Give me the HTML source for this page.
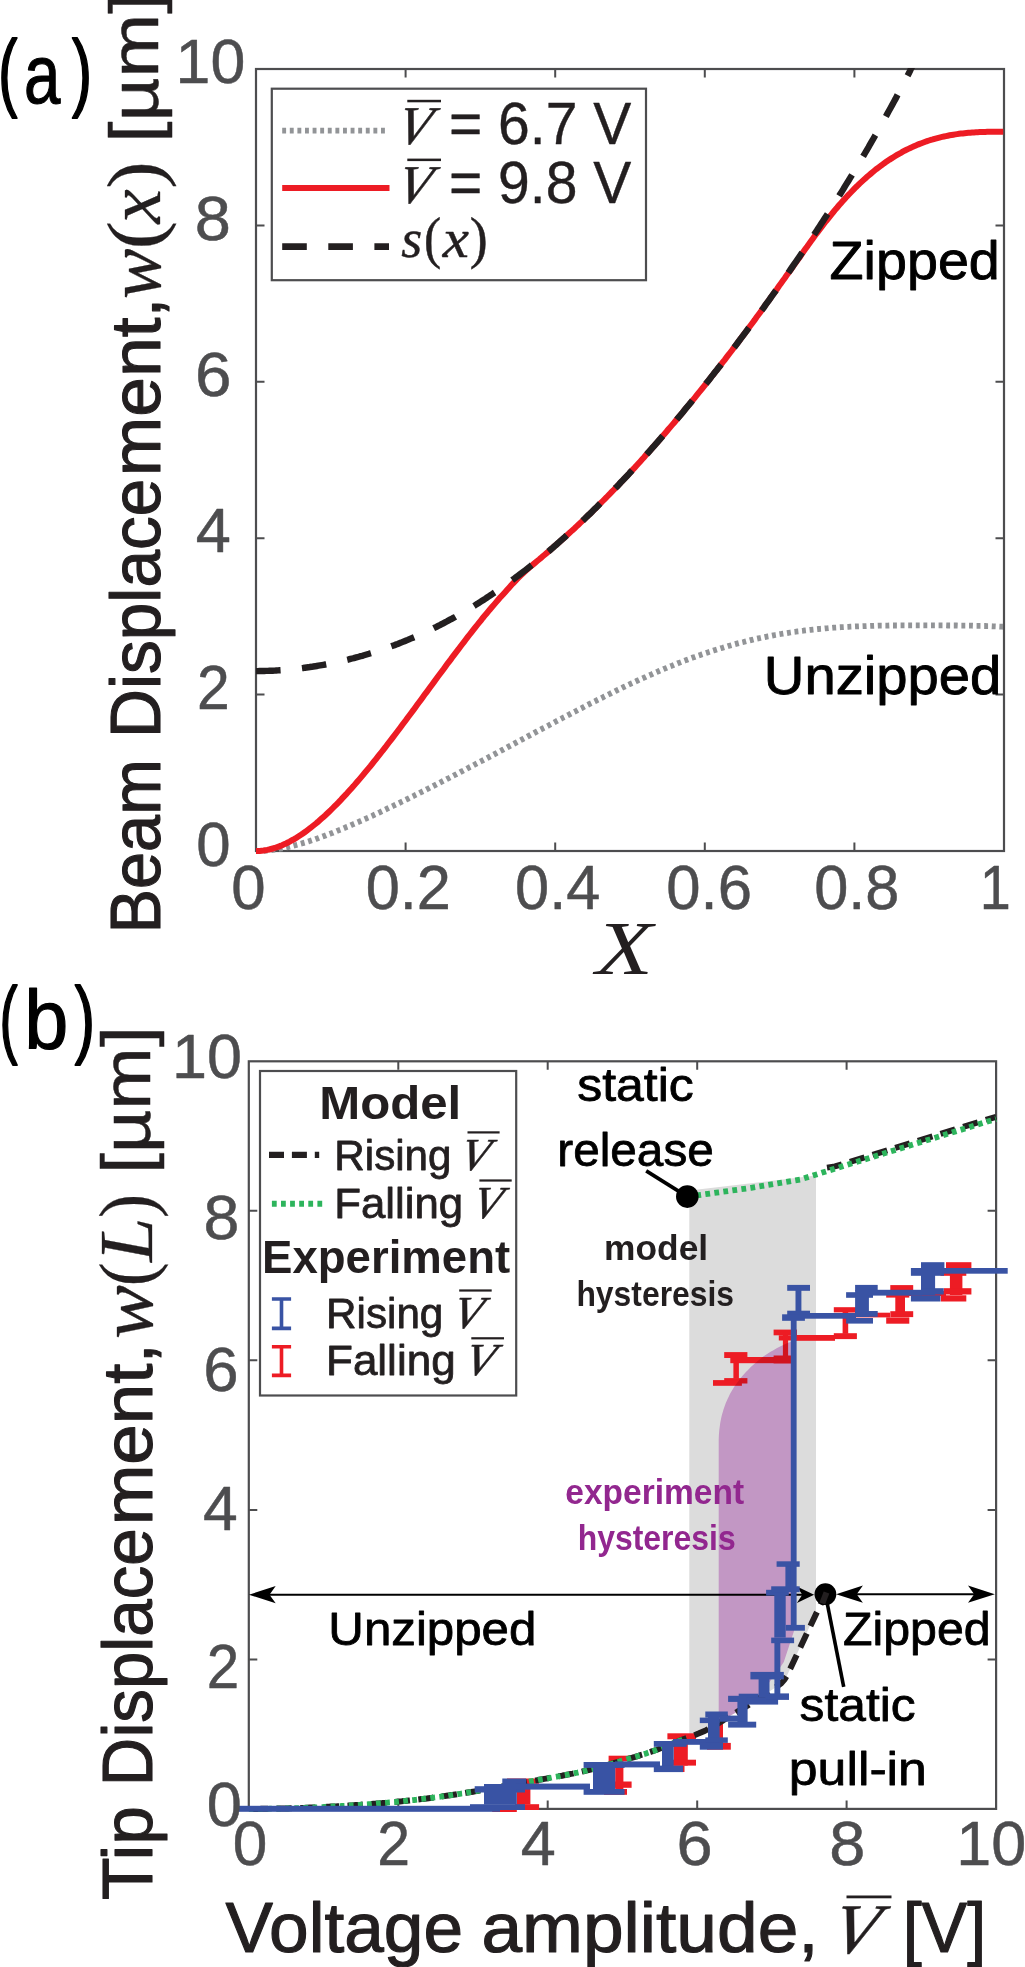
<!DOCTYPE html>
<html><head><meta charset="utf-8"><title>Figure</title>
<style>html,body{margin:0;padding:0;background:#fff}svg{display:block}text{white-space:pre}</style></head>
<body><svg width="1025" height="1967" viewBox="0 0 1025 1967">
<rect width="1025" height="1967" fill="#fff"/>
<rect x="256.0" y="69.0" width="748.0" height="782.0" fill="none" stroke="#4D4D4F" stroke-width="2.2"/>
<path d="M405.6,851.0v-8.5M405.6,69.0v8.5M555.2,851.0v-8.5M555.2,69.0v8.5M704.8,851.0v-8.5M704.8,69.0v8.5M854.4,851.0v-8.5M854.4,69.0v8.5M256.0,694.6h8.5M1004.0,694.6h-8.5M256.0,538.2h8.5M1004.0,538.2h-8.5M256.0,381.8h8.5M1004.0,381.8h-8.5M256.0,225.4h8.5M1004.0,225.4h-8.5" stroke="#4D4D4F" stroke-width="2" fill="none"/>
<clipPath id="ca"><rect x="255" y="68" width="748.2" height="786"/></clipPath>
<g clip-path="url(#ca)">
<path d="M256.0,851.0 L257.9,851.0 L259.7,850.9 L261.6,850.9 L263.5,850.8 L265.4,850.6 L267.2,850.5 L269.1,850.3 L271.0,850.1 L272.9,849.8 L274.7,849.6 L276.6,849.3 L278.5,849.0 L280.4,848.6 L282.2,848.3 L284.1,847.9 L286.0,847.5 L287.9,847.1 L289.7,846.7 L291.6,846.2 L293.5,845.7 L295.4,845.2 L297.2,844.7 L299.1,844.2 L301.0,843.7 L302.9,843.1 L304.7,842.6 L306.6,842.0 L308.5,841.4 L310.4,840.8 L312.2,840.2 L314.1,839.6 L316.0,838.9 L317.9,838.3 L319.7,837.6 L321.6,836.9 L323.5,836.2 L325.4,835.6 L327.2,834.8 L329.1,834.1 L331.0,833.4 L332.9,832.7 L334.7,831.9 L336.6,831.2 L338.5,830.4 L340.4,829.7 L342.2,828.9 L344.1,828.1 L346.0,827.3 L347.9,826.6 L349.7,825.8 L351.6,824.9 L353.5,824.1 L355.4,823.3 L357.2,822.5 L359.1,821.7 L361.0,820.8 L362.9,820.0 L364.7,819.2 L366.6,818.3 L368.5,817.5 L370.4,816.6 L372.2,815.8 L374.1,814.9 L376.0,814.0 L377.9,813.1 L379.7,812.3 L381.6,811.4 L383.5,810.5 L385.4,809.6 L387.2,808.7 L389.1,807.8 L391.0,806.9 L392.9,806.0 L394.7,805.1 L396.6,804.2 L398.5,803.3 L400.4,802.4 L402.2,801.5 L404.1,800.6 L406.0,799.7 L407.8,798.8 L409.7,797.8 L411.6,796.9 L413.5,796.0 L415.3,795.0 L417.2,794.1 L419.1,793.2 L421.0,792.2 L422.8,791.3 L424.7,790.4 L426.6,789.4 L428.5,788.5 L430.3,787.5 L432.2,786.6 L434.1,785.6 L436.0,784.7 L437.8,783.7 L439.7,782.8 L441.6,781.8 L443.5,780.8 L445.3,779.9 L447.2,778.9 L449.1,778.0 L451.0,777.0 L452.8,776.0 L454.7,775.0 L456.6,774.1 L458.5,773.1 L460.3,772.1 L462.2,771.2 L464.1,770.2 L466.0,769.2 L467.8,768.2 L469.7,767.2 L471.6,766.3 L473.5,765.3 L475.3,764.3 L477.2,763.3 L479.1,762.3 L481.0,761.3 L482.8,760.4 L484.7,759.4 L486.6,758.4 L488.5,757.4 L490.3,756.4 L492.2,755.4 L494.1,754.4 L496.0,753.4 L497.8,752.4 L499.7,751.4 L501.6,750.4 L503.5,749.4 L505.3,748.4 L507.2,747.4 L509.1,746.4 L511.0,745.4 L512.8,744.4 L514.7,743.4 L516.6,742.4 L518.5,741.4 L520.3,740.4 L522.2,739.4 L524.1,738.4 L526.0,737.4 L527.8,736.4 L529.7,735.4 L531.6,734.4 L533.5,733.4 L535.3,732.4 L537.2,731.4 L539.1,730.4 L541.0,729.4 L542.8,728.4 L544.7,727.5 L546.6,726.5 L548.5,725.5 L550.3,724.5 L552.2,723.5 L554.1,722.5 L555.9,721.5 L557.8,720.5 L559.7,719.5 L561.6,718.5 L563.4,717.5 L565.3,716.6 L567.2,715.6 L569.1,714.6 L570.9,713.6 L572.8,712.6 L574.7,711.7 L576.6,710.7 L578.4,709.7 L580.3,708.7 L582.2,707.8 L584.1,706.8 L585.9,705.8 L587.8,704.9 L589.7,703.9 L591.6,703.0 L593.4,702.0 L595.3,701.1 L597.2,700.1 L599.1,699.2 L600.9,698.2 L602.8,697.3 L604.7,696.3 L606.6,695.4 L608.4,694.5 L610.3,693.6 L612.2,692.6 L614.1,691.7 L615.9,690.8 L617.8,689.9 L619.7,689.0 L621.6,688.1 L623.4,687.2 L625.3,686.3 L627.2,685.4 L629.1,684.5 L630.9,683.6 L632.8,682.8 L634.7,681.9 L636.6,681.0 L638.4,680.2 L640.3,679.3 L642.2,678.4 L644.1,677.6 L645.9,676.8 L647.8,675.9 L649.7,675.1 L651.6,674.3 L653.4,673.4 L655.3,672.6 L657.2,671.8 L659.1,671.0 L660.9,670.2 L662.8,669.4 L664.7,668.6 L666.6,667.9 L668.4,667.1 L670.3,666.3 L672.2,665.6 L674.1,664.8 L675.9,664.1 L677.8,663.3 L679.7,662.6 L681.6,661.9 L683.4,661.1 L685.3,660.4 L687.2,659.7 L689.1,659.0 L690.9,658.3 L692.8,657.6 L694.7,657.0 L696.6,656.3 L698.4,655.6 L700.3,655.0 L702.2,654.3 L704.1,653.7 L705.9,653.0 L707.8,652.4 L709.7,651.8 L711.5,651.2 L713.4,650.6 L715.3,650.0 L717.2,649.4 L719.0,648.8 L720.9,648.2 L722.8,647.7 L724.7,647.1 L726.5,646.6 L728.4,646.0 L730.3,645.5 L732.2,645.0 L734.0,644.4 L735.9,643.9 L737.8,643.4 L739.7,642.9 L741.5,642.4 L743.4,642.0 L745.3,641.5 L747.2,641.0 L749.0,640.6 L750.9,640.1 L752.8,639.7 L754.7,639.2 L756.5,638.8 L758.4,638.4 L760.3,638.0 L762.2,637.6 L764.0,637.2 L765.9,636.8 L767.8,636.4 L769.7,636.1 L771.5,635.7 L773.4,635.3 L775.3,635.0 L777.2,634.7 L779.0,634.3 L780.9,634.0 L782.8,633.7 L784.7,633.4 L786.5,633.1 L788.4,632.8 L790.3,632.5 L792.2,632.2 L794.0,631.9 L795.9,631.7 L797.8,631.4 L799.7,631.2 L801.5,630.9 L803.4,630.7 L805.3,630.4 L807.2,630.2 L809.0,630.0 L810.9,629.8 L812.8,629.6 L814.7,629.4 L816.5,629.2 L818.4,629.0 L820.3,628.8 L822.2,628.7 L824.0,628.5 L825.9,628.3 L827.8,628.2 L829.7,628.0 L831.5,627.9 L833.4,627.7 L835.3,627.6 L837.2,627.5 L839.0,627.3 L840.9,627.2 L842.8,627.1 L844.7,627.0 L846.5,626.9 L848.4,626.8 L850.3,626.7 L852.2,626.6 L854.0,626.5 L855.9,626.4 L857.8,626.4 L859.6,626.3 L861.5,626.2 L863.4,626.1 L865.3,626.1 L867.1,626.0 L869.0,626.0 L870.9,625.9 L872.8,625.9 L874.6,625.8 L876.5,625.8 L878.4,625.7 L880.3,625.7 L882.1,625.7 L884.0,625.6 L885.9,625.6 L887.8,625.6 L889.6,625.5 L891.5,625.5 L893.4,625.5 L895.3,625.5 L897.1,625.5 L899.0,625.4 L900.9,625.4 L902.8,625.4 L904.6,625.4 L906.5,625.4 L908.4,625.4 L910.3,625.4 L912.1,625.4 L914.0,625.4 L915.9,625.4 L917.8,625.4 L919.6,625.4 L921.5,625.4 L923.4,625.4 L925.3,625.4 L927.1,625.4 L929.0,625.4 L930.9,625.4 L932.8,625.4 L934.6,625.4 L936.5,625.4 L938.4,625.4 L940.3,625.4 L942.1,625.4 L944.0,625.4 L945.9,625.4 L947.8,625.5 L949.6,625.5 L951.5,625.5 L953.4,625.5 L955.3,625.5 L957.1,625.5 L959.0,625.6 L960.9,625.6 L962.8,625.6 L964.6,625.6 L966.5,625.6 L968.4,625.7 L970.3,625.7 L972.1,625.7 L974.0,625.8 L975.9,625.8 L977.8,625.8 L979.6,625.9 L981.5,625.9 L983.4,626.0 L985.3,626.0 L987.1,626.1 L989.0,626.1 L990.9,626.2 L992.8,626.3 L994.6,626.3 L996.5,626.4 L998.4,626.5 L1000.3,626.6 L1002.1,626.7 L1004.0,626.8" fill="none" stroke="#929497" stroke-width="5.8" stroke-dasharray="3.9 3.7"/>
<path d="M256.0,851.0 L257.9,851.0 L259.7,850.9 L261.6,850.7 L263.5,850.5 L265.4,850.2 L267.2,849.9 L269.1,849.5 L271.0,849.0 L272.9,848.5 L274.7,848.0 L276.6,847.3 L278.5,846.7 L280.4,845.9 L282.2,845.2 L284.1,844.3 L286.0,843.5 L287.9,842.5 L289.7,841.6 L291.6,840.5 L293.5,839.5 L295.4,838.4 L297.2,837.2 L299.1,836.0 L301.0,834.8 L302.9,833.5 L304.7,832.2 L306.6,830.8 L308.5,829.4 L310.4,828.0 L312.2,826.5 L314.1,825.0 L316.0,823.5 L317.9,821.9 L319.7,820.3 L321.6,818.6 L323.5,816.9 L325.4,815.2 L327.2,813.5 L329.1,811.7 L331.0,809.9 L332.9,808.0 L334.7,806.2 L336.6,804.3 L338.5,802.4 L340.4,800.4 L342.2,798.4 L344.1,796.4 L346.0,794.4 L347.9,792.3 L349.7,790.3 L351.6,788.2 L353.5,786.1 L355.4,783.9 L357.2,781.8 L359.1,779.6 L361.0,777.4 L362.9,775.1 L364.7,772.9 L366.6,770.6 L368.5,768.4 L370.4,766.1 L372.2,763.8 L374.1,761.4 L376.0,759.1 L377.9,756.7 L379.7,754.4 L381.6,752.0 L383.5,749.6 L385.4,747.2 L387.2,744.8 L389.1,742.3 L391.0,739.9 L392.9,737.4 L394.7,735.0 L396.6,732.5 L398.5,730.0 L400.4,727.5 L402.2,725.0 L404.1,722.5 L406.0,720.0 L407.8,717.5 L409.7,715.0 L411.6,712.4 L413.5,709.9 L415.3,707.4 L417.2,704.8 L419.1,702.3 L421.0,699.7 L422.8,697.2 L424.7,694.6 L426.6,692.1 L428.5,689.5 L430.3,687.0 L432.2,684.4 L434.1,681.9 L436.0,679.3 L437.8,676.8 L439.7,674.3 L441.6,671.7 L443.5,669.2 L445.3,666.7 L447.2,664.1 L449.1,661.6 L451.0,659.1 L452.8,656.6 L454.7,654.1 L456.6,651.6 L458.5,649.2 L460.3,646.7 L462.2,644.2 L464.1,641.8 L466.0,639.3 L467.8,636.9 L469.7,634.5 L471.6,632.1 L473.5,629.7 L475.3,627.4 L477.2,625.0 L479.1,622.7 L481.0,620.3 L482.8,618.0 L484.7,615.7 L486.6,613.5 L488.5,611.2 L490.3,609.0 L492.2,606.8 L494.1,604.6 L496.0,602.4 L497.8,600.3 L499.7,598.1 L501.6,596.0 L503.5,593.9 L505.3,591.9 L507.2,589.8 L509.1,587.7 L511.0,585.6 L512.8,583.6 L514.7,581.6 L516.6,579.6 L518.5,577.7 L520.3,575.9 L522.2,574.1 L524.1,572.3 L526.0,570.6 L527.8,568.9 L529.7,567.3 L531.6,565.7 L533.5,564.1 L535.3,562.6 L537.2,561.0 L539.1,559.5 L541.0,557.9 L542.8,556.3 L544.7,554.7 L546.6,553.1 L548.5,551.5 L550.3,549.9 L552.2,548.3 L554.1,546.6 L555.9,545.0 L557.8,543.4 L559.7,541.7 L561.6,540.1 L563.4,538.4 L565.3,536.7 L567.2,535.0 L569.1,533.3 L570.9,531.6 L572.8,529.9 L574.7,528.2 L576.6,526.4 L578.4,524.7 L580.3,522.9 L582.2,521.1 L584.1,519.4 L585.9,517.6 L587.8,515.8 L589.7,514.0 L591.6,512.1 L593.4,510.3 L595.3,508.5 L597.2,506.6 L599.1,504.7 L600.9,502.9 L602.8,501.0 L604.7,499.1 L606.6,497.2 L608.4,495.3 L610.3,493.4 L612.2,491.4 L614.1,489.5 L615.9,487.6 L617.8,485.6 L619.7,483.6 L621.6,481.7 L623.4,479.7 L625.3,477.7 L627.2,475.7 L629.1,473.7 L630.9,471.6 L632.8,469.6 L634.7,467.6 L636.6,465.5 L638.4,463.5 L640.3,461.4 L642.2,459.3 L644.1,457.2 L645.9,455.1 L647.8,453.0 L649.7,450.9 L651.6,448.8 L653.4,446.7 L655.3,444.5 L657.2,442.4 L659.1,440.2 L660.9,438.1 L662.8,435.9 L664.7,433.7 L666.6,431.5 L668.4,429.3 L670.3,427.1 L672.2,424.9 L674.1,422.7 L675.9,420.5 L677.8,418.2 L679.7,416.0 L681.6,413.8 L683.4,411.5 L685.3,409.2 L687.2,406.9 L689.1,404.7 L690.9,402.4 L692.8,400.1 L694.7,397.8 L696.6,395.4 L698.4,393.1 L700.3,390.8 L702.2,388.5 L704.1,386.1 L705.9,383.8 L707.8,381.4 L709.7,379.0 L711.5,376.6 L713.4,374.3 L715.3,371.9 L717.2,369.5 L719.0,367.1 L720.9,364.6 L722.8,362.2 L724.7,359.8 L726.5,357.4 L728.4,354.9 L730.3,352.5 L732.2,350.0 L734.0,347.5 L735.9,345.1 L737.8,342.6 L739.7,340.1 L741.5,337.6 L743.4,335.1 L745.3,332.6 L747.2,330.1 L749.0,327.5 L750.9,325.0 L752.8,322.4 L754.7,319.9 L756.5,317.3 L758.4,314.8 L760.3,312.2 L762.2,309.6 L764.0,307.0 L765.9,304.4 L767.8,301.8 L769.7,299.2 L771.5,296.6 L773.4,294.0 L775.3,291.3 L777.2,288.7 L779.0,286.0 L780.9,283.4 L782.8,280.7 L784.7,278.2 L786.5,275.6 L788.4,273.0 L790.3,270.4 L792.2,267.8 L794.0,265.1 L795.9,262.5 L797.8,259.8 L799.7,257.2 L801.5,254.5 L803.4,251.8 L805.3,249.1 L807.2,246.5 L809.0,243.9 L810.9,241.3 L812.8,238.7 L814.7,236.1 L816.5,233.6 L818.4,231.1 L820.3,228.7 L822.2,226.2 L824.0,223.8 L825.9,221.3 L827.8,219.0 L829.7,216.6 L831.5,214.3 L833.4,212.0 L835.3,209.7 L837.2,207.5 L839.0,205.3 L840.9,203.2 L842.8,201.1 L844.7,199.0 L846.5,196.9 L848.4,194.9 L850.3,193.0 L852.2,191.0 L854.0,189.1 L855.9,187.2 L857.8,185.4 L859.6,183.6 L861.5,181.9 L863.4,180.1 L865.3,178.4 L867.1,176.8 L869.0,175.2 L870.9,173.6 L872.8,172.0 L874.6,170.5 L876.5,169.0 L878.4,167.6 L880.3,166.2 L882.1,164.8 L884.0,163.4 L885.9,162.1 L887.8,160.8 L889.6,159.6 L891.5,158.4 L893.4,157.2 L895.3,156.0 L897.1,154.9 L899.0,153.8 L900.9,152.8 L902.8,151.7 L904.6,150.7 L906.5,149.8 L908.4,148.9 L910.3,148.0 L912.1,147.1 L914.0,146.2 L915.9,145.4 L917.8,144.6 L919.6,143.9 L921.5,143.2 L923.4,142.5 L925.3,141.8 L927.1,141.1 L929.0,140.5 L930.9,139.9 L932.8,139.4 L934.6,138.8 L936.5,138.3 L938.4,137.8 L940.3,137.3 L942.1,136.9 L944.0,136.5 L945.9,136.1 L947.8,135.7 L949.6,135.3 L951.5,135.0 L953.4,134.7 L955.3,134.4 L957.1,134.1 L959.0,133.8 L960.9,133.6 L962.8,133.4 L964.6,133.2 L966.5,133.0 L968.4,132.8 L970.3,132.7 L972.1,132.5 L974.0,132.4 L975.9,132.3 L977.8,132.2 L979.6,132.1 L981.5,132.0 L983.4,131.9 L985.3,131.9 L987.1,131.8 L989.0,131.8 L990.9,131.7 L992.8,131.7 L994.6,131.7 L996.5,131.7 L998.4,131.7 L1000.3,131.7 L1002.1,131.7 L1004.0,131.7" fill="none" stroke="#ED1C24" stroke-width="6"/>
<path d="M256.0,671.1 L257.7,671.1 L259.4,671.0 L261.1,671.0 L262.7,671.0 L264.4,671.0 L266.1,670.9 L267.8,670.9 L269.5,670.8 L271.2,670.7 L272.9,670.7 L274.6,670.6 L276.2,670.5 L277.9,670.4 L279.6,670.3 L281.3,670.2 L283.0,670.0 L284.7,669.9 L286.4,669.8 L288.1,669.6 L289.7,669.5 L291.4,669.3 L293.1,669.1 L294.8,669.0 L296.5,668.8 L298.2,668.6 L299.9,668.4 L301.6,668.2 L303.2,668.0 L304.9,667.7 L306.6,667.5 L308.3,667.3 L310.0,667.0 L311.7,666.8 L313.4,666.5 L315.1,666.3 L316.7,666.0 L318.4,665.7 L320.1,665.4 L321.8,665.1 L323.5,664.8 L325.2,664.5 L326.9,664.2 L328.6,663.9 L330.2,663.5 L331.9,663.2 L333.6,662.8 L335.3,662.5 L337.0,662.1 L338.7,661.7 L340.4,661.4 L342.0,661.0 L343.7,660.6 L345.4,660.2 L347.1,659.8 L348.8,659.4 L350.5,658.9 L352.2,658.5 L353.9,658.1 L355.5,657.6 L357.2,657.2 L358.9,656.7 L360.6,656.2 L362.3,655.8 L364.0,655.3 L365.7,654.8 L367.4,654.3 L369.0,653.8 L370.7,653.2 L372.4,652.7 L374.1,652.2 L375.8,651.6 L377.5,651.1 L379.2,650.5 L380.9,650.0 L382.5,649.4 L384.2,648.8 L385.9,648.2 L387.6,647.6 L389.3,647.0 L391.0,646.4 L392.7,645.8 L394.4,645.2 L396.0,644.5 L397.7,643.9 L399.4,643.2 L401.1,642.6 L402.8,641.9 L404.5,641.2 L406.2,640.5 L407.8,639.9 L409.5,639.1 L411.2,638.4 L412.9,637.7 L414.6,637.0 L416.3,636.3 L418.0,635.5 L419.7,634.8 L421.3,634.0 L423.0,633.2 L424.7,632.4 L426.4,631.7 L428.1,630.9 L429.8,630.1 L431.5,629.2 L433.2,628.4 L434.8,627.6 L436.5,626.8 L438.2,625.9 L439.9,625.1 L441.6,624.2 L443.3,623.3 L445.0,622.4 L446.7,621.5 L448.3,620.6 L450.0,619.7 L451.7,618.8 L453.4,617.9 L455.1,617.0 L456.8,616.0 L458.5,615.1 L460.2,614.1 L461.8,613.1 L463.5,612.2 L465.2,611.2 L466.9,610.2 L468.6,609.2 L470.3,608.2 L472.0,607.1 L473.7,606.1 L475.3,605.1 L477.0,604.0 L478.7,603.0 L480.4,601.9 L482.1,600.8 L483.8,599.7 L485.5,598.6 L487.1,597.5 L488.8,596.4 L490.5,595.3 L492.2,594.2 L493.9,593.0 L495.6,591.9 L497.3,590.7 L499.0,589.6 L500.6,588.4 L502.3,587.2 L504.0,586.0 L505.7,584.8 L507.4,583.6 L509.1,582.4 L510.8,581.2 L512.5,579.9 L514.1,578.7 L515.8,577.4 L517.5,576.2 L519.2,574.9 L520.9,573.6 L522.6,572.3 L524.3,571.0 L526.0,569.7 L527.6,568.4 L529.3,567.1 L531.0,565.7 L532.7,564.4 L534.4,563.0 L536.1,561.7 L537.8,560.3 L539.5,558.9 L541.1,557.5 L542.8,556.1 L544.5,554.7 L546.2,553.3 L547.9,551.9 L549.6,550.5 L551.3,549.0 L553.0,547.6 L554.6,546.1 L556.3,544.7 L558.0,543.2 L559.7,541.7 L561.4,540.2 L563.1,538.7 L564.8,537.2 L566.4,535.7 L568.1,534.2 L569.8,532.6 L571.5,531.1 L573.2,529.5 L574.9,528.0 L576.6,526.4 L578.3,524.8 L579.9,523.3 L581.6,521.7 L583.3,520.1 L585.0,518.5 L586.7,516.8 L588.4,515.2 L590.1,513.6 L591.8,511.9 L593.4,510.3 L595.1,508.6 L596.8,507.0 L598.5,505.3 L600.2,503.6 L601.9,501.9 L603.6,500.2 L605.3,498.5 L606.9,496.8 L608.6,495.1 L610.3,493.4 L612.0,491.6 L613.7,489.9 L615.4,488.1 L617.1,486.4 L618.8,484.6 L620.4,482.8 L622.1,481.1 L623.8,479.3 L625.5,477.5 L627.2,475.7 L628.9,473.9 L630.6,472.0 L632.2,470.2 L633.9,468.4 L635.6,466.5 L637.3,464.7 L639.0,462.8 L640.7,461.0 L642.4,459.1 L644.1,457.2 L645.7,455.3 L647.4,453.5 L649.1,451.6 L650.8,449.7 L652.5,447.7 L654.2,445.8 L655.9,443.9 L657.6,442.0 L659.2,440.0 L660.9,438.1 L662.6,436.1 L664.3,434.2 L666.0,432.2 L667.7,430.2 L669.4,428.2 L671.1,426.3 L672.7,424.3 L674.4,422.3 L676.1,420.3 L677.8,418.2 L679.5,416.2 L681.2,414.2 L682.9,412.2 L684.6,410.1 L686.2,408.1 L687.9,406.0 L689.6,404.0 L691.3,401.9 L693.0,399.8 L694.7,397.8 L696.4,395.7 L698.1,393.6 L699.7,391.5 L701.4,389.4 L703.1,387.3 L704.8,385.2 L706.5,383.0 L708.2,380.9 L709.9,378.8 L711.5,376.6 L713.2,374.5 L714.9,372.3 L716.6,370.2 L718.3,368.0 L720.0,365.9 L721.7,363.7 L723.4,361.5 L725.0,359.3 L726.7,357.1 L728.4,354.9 L730.1,352.7 L731.8,350.5 L733.5,348.3 L735.2,346.1 L736.9,343.8 L738.5,341.6 L740.2,339.3 L741.9,337.1 L743.6,334.8 L745.3,332.6 L747.0,330.3 L748.7,328.0 L750.4,325.8 L752.0,323.5 L753.7,321.2 L755.4,318.9 L757.1,316.6 L758.8,314.3 L760.5,311.9 L762.2,309.6 L763.9,307.3 L765.5,304.9 L767.2,302.6 L768.9,300.3 L770.6,297.9 L772.3,295.5 L774.0,293.2 L775.7,290.8 L777.4,288.4 L779.0,286.0 L780.7,283.6 L782.4,281.2 L784.1,278.8 L785.8,276.4 L787.5,274.0 L789.2,271.5 L790.8,269.1 L792.5,266.6 L794.2,264.2 L795.9,261.7 L797.6,259.2 L799.3,256.8 L801.0,254.3 L802.7,251.8 L804.3,249.3 L806.0,246.8 L807.7,244.3 L809.4,241.7 L811.1,239.2 L812.8,236.7 L814.5,234.1 L816.2,231.6 L817.8,229.0 L819.5,226.4 L821.2,223.8 L822.9,221.2 L824.6,218.6 L826.3,216.0 L828.0,213.4 L829.7,210.8 L831.3,208.1 L833.0,205.5 L834.7,202.8 L836.4,200.1 L838.1,197.5 L839.8,194.8 L841.5,192.1 L843.2,189.4 L844.8,186.6 L846.5,183.9 L848.2,181.2 L849.9,178.4 L851.6,175.6 L853.3,172.8 L855.0,170.1 L856.6,167.3 L858.3,164.4 L860.0,161.6 L861.7,158.8 L863.4,155.9 L865.1,153.0 L866.8,150.2 L868.5,147.3 L870.1,144.3 L871.8,141.4 L873.5,138.5 L875.2,135.5 L876.9,132.6 L878.6,129.6 L880.3,126.6 L882.0,123.6 L883.6,120.5 L885.3,117.5 L887.0,114.4 L888.7,111.3 L890.4,108.2 L892.1,105.1 L893.8,102.0 L895.5,98.9 L897.1,95.7 L898.8,92.5 L900.5,89.3 L902.2,86.1 L903.9,82.8 L905.6,79.6 L907.3,76.3 L909.0,73.0 L910.6,69.6 L912.3,66.3 L914.0,62.9 L915.7,59.5 L917.4,56.1 L919.1,52.7 L920.8,49.2 L922.5,45.8 L924.1,42.2 L925.8,38.7 L927.5,35.2 L929.2,31.6" fill="none" stroke="#231F20" stroke-width="6.4" stroke-dasharray="24.6 21.5"/>
</g>
<rect x="271.8" y="88.7" width="374.2" height="191.5" fill="#fff" stroke="#4D4D4F" stroke-width="2.2"/>
<path d="M282.2,130.7 L387.0,130.7" fill="none" stroke="#929497" stroke-width="5.8" stroke-dasharray="3.9 3.7"/>
<path d="M282.2,188.1 L389.5,188.1" fill="none" stroke="#ED1C24" stroke-width="6"/>
<path d="M282.2,246.6 L389.0,246.6" fill="none" stroke="#231F20" stroke-width="6.6" stroke-dasharray="24.6 21.5"/>
<rect x="407.3" y="99.8" width="33.7" height="2.5" fill="#231F20"/>
<rect x="407.3" y="158.6" width="33.7" height="2.5" fill="#231F20"/>
<path d="M689.3,1190.5 L816.0,1175.5 L816.0,1612.5 L787.5,1674.5 L784.5,1679.5 L781.0,1683.6 L779.4,1684.7 L777.9,1685.8 L776.3,1686.8 L774.8,1687.9 L773.2,1689.0 L771.7,1690.0 L770.1,1691.1 L768.6,1692.1 L767.0,1693.1 L765.5,1694.2 L763.9,1695.2 L762.3,1696.2 L760.8,1697.3 L759.2,1698.3 L757.7,1699.3 L756.1,1700.3 L754.6,1701.3 L753.0,1702.2 L751.5,1703.2 L749.9,1704.2 L748.4,1705.1 L746.8,1706.1 L745.3,1707.0 L743.7,1707.9 L742.1,1708.9 L740.6,1709.8 L739.0,1710.7 L737.5,1711.6 L735.9,1712.5 L734.4,1713.5 L732.8,1714.4 L731.3,1715.3 L729.7,1716.3 L728.2,1717.2 L726.6,1718.2 L725.0,1719.2 L723.5,1720.1 L721.9,1721.1 L720.4,1722.1 L718.8,1723.0 L717.3,1724.0 L715.7,1724.9 L714.2,1725.8 L712.6,1726.7 L711.1,1727.6 L709.5,1728.4 L708.0,1729.2 L706.4,1730.0 L704.8,1730.8 L703.3,1731.5 L701.7,1732.2 L700.2,1732.8 L698.6,1733.5 L697.1,1734.1 L695.5,1734.7 L694.0,1735.3 L692.4,1735.9 L690.9,1736.5 L689.3,1737.1Z" fill="#DCDCDC"/>
<rect x="248.8" y="1061.3" width="747.3" height="747.6000000000001" fill="none" stroke="#4D4D4F" stroke-width="2.2"/>
<path d="M398.3,1808.9v-8.5M398.3,1061.3v8.5M547.7,1808.9v-8.5M547.7,1061.3v8.5M697.2,1808.9v-8.5M697.2,1061.3v8.5M846.6,1808.9v-8.5M846.6,1061.3v8.5M248.8,1659.4h8.5M996.1,1659.4h-8.5M248.8,1509.9h8.5M996.1,1509.9h-8.5M248.8,1360.3h8.5M996.1,1360.3h-8.5M248.8,1210.8h8.5M996.1,1210.8h-8.5" stroke="#4D4D4F" stroke-width="2" fill="none"/>
<rect x="507.0" y="1778.5" width="32.1" height="5.3" fill="#ED1C24"/>
<rect x="516.8" y="1783.0" width="13.6" height="21.5" fill="#ED1C24"/>
<rect x="515.0" y="1804.2" width="24.1" height="5.8" fill="#ED1C24"/>
<rect x="492.2" y="1808.9" width="24.6" height="3.1" fill="#ED1C24"/>
<rect x="608.6" y="1755.7" width="23.0" height="5.7" fill="#ED1C24"/>
<rect x="615.2" y="1761.0" width="8.2" height="28.0" fill="#ED1C24"/>
<rect x="608.0" y="1781.5" width="23.6" height="6.3" fill="#ED1C24"/>
<rect x="604.0" y="1789.0" width="23.0" height="5.8" fill="#ED1C24"/>
<rect x="667.4" y="1733.3" width="28.6" height="6.0" fill="#ED1C24"/>
<rect x="673.7" y="1739.0" width="14.1" height="26.6" fill="#ED1C24"/>
<rect x="673.0" y="1759.7" width="23.0" height="5.9" fill="#ED1C24"/>
<rect x="662.0" y="1765.6" width="22.5" height="6.4" fill="#ED1C24"/>
<rect x="716.0" y="1722.0" width="7.0" height="23.0" fill="#ED1C24"/>
<rect x="707.0" y="1742.9" width="23.8" height="6.8" fill="#ED1C24"/>
<rect x="724.2" y="1352.1" width="23.2" height="5.9" fill="#ED1C24"/>
<rect x="733.4" y="1358.0" width="5.5" height="20.7" fill="#ED1C24"/>
<rect x="724.2" y="1378.1" width="23.2" height="5.4" fill="#ED1C24"/>
<rect x="713.0" y="1380.1" width="28.9" height="5.7" fill="#ED1C24"/>
<rect x="730.3" y="1357.0" width="60.7" height="6.2" fill="#ED1C24"/>
<rect x="773.6" y="1329.6" width="23.4" height="5.7" fill="#ED1C24"/>
<rect x="778.8" y="1335.3" width="18.2" height="5.2" fill="#ED1C24"/>
<rect x="782.9" y="1335.0" width="5.2" height="21.2" fill="#ED1C24"/>
<rect x="773.6" y="1355.5" width="17.4" height="7.9" fill="#ED1C24"/>
<rect x="791.0" y="1335.0" width="44.0" height="5.8" fill="#ED1C24"/>
<rect x="833.8" y="1307.2" width="23.1" height="5.2" fill="#ED1C24"/>
<rect x="842.6" y="1312.0" width="5.6" height="21.8" fill="#ED1C24"/>
<rect x="833.8" y="1333.2" width="23.1" height="5.9" fill="#ED1C24"/>
<rect x="848.0" y="1312.7" width="42.0" height="4.7" fill="#ED1C24"/>
<rect x="890.3" y="1285.1" width="22.9" height="5.2" fill="#ED1C24"/>
<rect x="886.2" y="1291.0" width="23.1" height="6.6" fill="#ED1C24"/>
<rect x="895.3" y="1290.0" width="9.7" height="27.0" fill="#ED1C24"/>
<rect x="890.3" y="1311.2" width="22.9" height="5.9" fill="#ED1C24"/>
<rect x="886.2" y="1317.4" width="23.1" height="6.3" fill="#ED1C24"/>
<rect x="905.0" y="1291.0" width="41.0" height="5.0" fill="#ED1C24"/>
<rect x="946.0" y="1262.2" width="25.4" height="5.8" fill="#ED1C24"/>
<rect x="940.5" y="1268.0" width="25.8" height="7.8" fill="#ED1C24"/>
<rect x="949.9" y="1268.0" width="12.5" height="27.0" fill="#ED1C24"/>
<rect x="943.7" y="1288.2" width="27.7" height="6.3" fill="#ED1C24"/>
<rect x="940.9" y="1295.3" width="25.4" height="6.2" fill="#ED1C24"/>
<path d="M718.7,1444.0 L718.7,1441.7 L718.7,1439.4 L718.8,1437.0 L718.9,1434.7 L719.1,1432.4 L719.3,1430.1 L719.6,1427.8 L719.9,1425.5 L720.2,1423.2 L720.6,1420.9 L721.1,1418.6 L721.6,1416.3 L722.2,1414.1 L722.8,1411.9 L723.5,1409.6 L724.2,1407.4 L725.0,1405.2 L725.8,1403.1 L726.7,1400.9 L727.7,1398.8 L728.7,1396.7 L729.7,1394.6 L730.8,1392.6 L732.0,1390.6 L733.2,1388.6 L734.4,1386.6 L735.7,1384.7 L737.1,1382.8 L738.5,1380.9 L739.9,1379.1 L741.3,1377.3 L742.8,1375.5 L744.4,1373.8 L745.9,1372.0 L747.5,1370.4 L749.2,1368.7 L750.8,1367.1 L752.5,1365.5 L754.2,1363.9 L756.0,1362.4 L757.7,1360.9 L759.5,1359.4 L761.4,1358.0 L763.3,1356.6 L765.2,1355.3 L767.1,1354.0 L769.0,1352.8 L771.0,1351.5 L773.0,1350.4 L775.0,1349.2 L777.1,1348.1 L779.1,1347.0 L781.2,1346.0 L783.3,1345.0 L785.4,1344.0 L787.5,1343.1 L789.7,1342.2 L791.8,1341.3 L794.0,1340.5 L794.0,1631.0 L783.8,1662.0 L777.0,1672.0 L765.0,1688.0 L751.0,1702.0 L735.0,1713.0 L718.7,1722.0Z" fill="#E1AFE3" style="mix-blend-mode:multiply"/>
<path d="M248.8,1808.9 L250.6,1808.9 L252.4,1808.9 L254.1,1808.9 L255.9,1808.9 L257.7,1808.9 L259.5,1808.9 L261.3,1808.8 L263.0,1808.8 L264.8,1808.8 L266.6,1808.8 L268.4,1808.8 L270.2,1808.7 L271.9,1808.7 L273.7,1808.7 L275.5,1808.7 L277.3,1808.6 L279.1,1808.6 L280.8,1808.5 L282.6,1808.5 L284.4,1808.5 L286.2,1808.4 L288.0,1808.4 L289.7,1808.3 L291.5,1808.3 L293.3,1808.2 L295.1,1808.2 L296.9,1808.1 L298.6,1808.0 L300.4,1808.0 L302.2,1807.9 L304.0,1807.9 L305.8,1807.8 L307.5,1807.7 L309.3,1807.6 L311.1,1807.6 L312.9,1807.5 L314.7,1807.4 L316.4,1807.3 L318.2,1807.3 L320.0,1807.2 L321.8,1807.1 L323.6,1807.0 L325.3,1806.9 L327.1,1806.8 L328.9,1806.7 L330.7,1806.6 L332.5,1806.5 L334.2,1806.5 L336.0,1806.4 L337.8,1806.2 L339.6,1806.1 L341.4,1806.0 L343.1,1805.9 L344.9,1805.8 L346.7,1805.7 L348.5,1805.6 L350.3,1805.5 L352.0,1805.4 L353.8,1805.2 L355.6,1805.1 L357.4,1805.0 L359.2,1804.9 L360.9,1804.8 L362.7,1804.6 L364.5,1804.5 L366.3,1804.4 L368.1,1804.2 L369.8,1804.1 L371.6,1804.0 L373.4,1803.8 L375.2,1803.7 L377.0,1803.5 L378.7,1803.4 L380.5,1803.2 L382.3,1803.1 L384.1,1802.9 L385.9,1802.8 L387.6,1802.6 L389.4,1802.4 L391.2,1802.3 L393.0,1802.1 L394.8,1802.0 L396.5,1801.8 L398.3,1801.6 L400.1,1801.4 L401.9,1801.3 L403.7,1801.1 L405.4,1800.9 L407.2,1800.7 L409.0,1800.5 L410.8,1800.3 L412.6,1800.1 L414.3,1799.9 L416.1,1799.7 L417.9,1799.5 L419.7,1799.3 L421.5,1799.1 L423.2,1798.9 L425.0,1798.7 L426.8,1798.5 L428.6,1798.2 L430.4,1798.0 L432.1,1797.8 L433.9,1797.5 L435.7,1797.3 L437.5,1797.1 L439.3,1796.8 L441.0,1796.6 L442.8,1796.3 L444.6,1796.1 L446.4,1795.8 L448.2,1795.6 L449.9,1795.3 L451.7,1795.1 L453.5,1794.8 L455.3,1794.5 L457.1,1794.2 L458.8,1794.0 L460.6,1793.7 L462.4,1793.4 L464.2,1793.1 L466.0,1792.8 L467.7,1792.5 L469.5,1792.2 L471.3,1792.0 L473.1,1791.7 L474.9,1791.4 L476.6,1791.1 L478.4,1790.8 L480.2,1790.4 L482.0,1790.1 L483.8,1789.8 L485.5,1789.5 L487.3,1789.2 L489.1,1788.9 L490.9,1788.6 L492.7,1788.3 L494.4,1787.9 L496.2,1787.6 L498.0,1787.3 L499.8,1787.0 L501.6,1786.7 L503.3,1786.3 L505.1,1786.0 L506.9,1785.7 L508.7,1785.4 L510.5,1785.0 L512.2,1784.7 L514.0,1784.4 L515.8,1784.1 L517.6,1783.7 L519.3,1783.4 L521.1,1783.1 L522.9,1782.8 L524.7,1782.4 L526.5,1782.1 L528.2,1781.8 L530.0,1781.5 L531.8,1781.1 L533.6,1780.8 L535.4,1780.5 L537.1,1780.2 L538.9,1779.8 L540.7,1779.5 L542.5,1779.2 L544.3,1778.9 L546.0,1778.6 L547.8,1778.3 L549.6,1777.9 L551.4,1777.6 L553.2,1777.3 L554.9,1777.0 L556.7,1776.7 L558.5,1776.3 L560.3,1776.0 L562.1,1775.7 L563.8,1775.3 L565.6,1775.0 L567.4,1774.6 L569.2,1774.3 L571.0,1773.9 L572.7,1773.6 L574.5,1773.2 L576.3,1772.8 L578.1,1772.5 L579.9,1772.1 L581.6,1771.7 L583.4,1771.3 L585.2,1770.8 L587.0,1770.4 L588.8,1770.0 L590.5,1769.6 L592.3,1769.1 L594.1,1768.6 L595.9,1768.2 L597.7,1767.7 L599.4,1767.2 L601.2,1766.8 L603.0,1766.3 L604.8,1765.8 L606.6,1765.3 L608.3,1764.8 L610.1,1764.2 L611.9,1763.7 L613.7,1763.2 L615.5,1762.7 L617.2,1762.2 L619.0,1761.6 L620.8,1761.1 L622.6,1760.6 L624.4,1760.1 L626.1,1759.5 L627.9,1759.0 L629.7,1758.5 L631.5,1758.0 L633.3,1757.4 L635.0,1756.9 L636.8,1756.3 L638.6,1755.8 L640.4,1755.2 L642.2,1754.7 L643.9,1754.1 L645.7,1753.5 L647.5,1752.9 L649.3,1752.3 L651.1,1751.7 L652.8,1751.1 L654.6,1750.5 L656.4,1749.9 L658.2,1749.2 L660.0,1748.5 L661.7,1747.9 L663.5,1747.2 L665.3,1746.5 L667.1,1745.8 L668.9,1745.1 L670.6,1744.4 L672.4,1743.7 L674.2,1742.9 L676.0,1742.2 L677.8,1741.5 L679.5,1740.8 L681.3,1740.1 L683.1,1739.4 L684.9,1738.7 L686.7,1738.1 L688.4,1737.4 L690.2,1736.7 L692.0,1736.1 L693.8,1735.4 L695.6,1734.7 L697.3,1734.0 L699.1,1733.3 L700.9,1732.5 L702.7,1731.7 L704.5,1730.9 L706.2,1730.1 L708.0,1729.2 L709.8,1728.2 L711.6,1727.3 L713.4,1726.3 L715.1,1725.2 L716.9,1724.2 L718.7,1723.1 L720.5,1722.0 L722.3,1720.9 L724.0,1719.8 L725.8,1718.7 L727.6,1717.6 L729.4,1716.5 L731.2,1715.4 L732.9,1714.3 L734.7,1713.3 L736.5,1712.2 L738.3,1711.1 L740.1,1710.1 L741.8,1709.0 L743.6,1708.0 L745.4,1706.9 L747.2,1705.8 L749.0,1704.8 L750.7,1703.7 L752.5,1702.6 L754.3,1701.4 L756.1,1700.3 L757.9,1699.2 L759.6,1698.0 L761.4,1696.8 L763.2,1695.7 L765.0,1694.5 L766.8,1693.3 L768.5,1692.1 L770.3,1690.9 L772.1,1689.7 L773.9,1688.5 L775.7,1687.3 L777.4,1686.1 L779.2,1684.8 L781.0,1683.6 L784.5,1679.5 L787.5,1674.5 L825.4,1594.2" fill="none" stroke="#231F20" stroke-width="6" stroke-dasharray="15.3 8.4" stroke-dashoffset="19.7"/>
<path d="M827.0,1167.6 L835.0,1166.4 L996.1,1116.8" fill="none" stroke="#231F20" stroke-width="6" stroke-dasharray="15.3 8.4"/>
<path d="M248.8,1808.9 L250.6,1808.9 L252.3,1808.9 L254.1,1808.9 L255.8,1808.9 L257.6,1808.9 L259.3,1808.9 L261.1,1808.8 L262.9,1808.8 L264.6,1808.8 L266.4,1808.8 L268.1,1808.8 L269.9,1808.7 L271.7,1808.7 L273.4,1808.7 L275.2,1808.7 L276.9,1808.6 L278.7,1808.6 L280.4,1808.6 L282.2,1808.5 L284.0,1808.5 L285.7,1808.4 L287.5,1808.4 L289.2,1808.3 L291.0,1808.3 L292.8,1808.2 L294.5,1808.2 L296.3,1808.1 L298.0,1808.1 L299.8,1808.0 L301.5,1807.9 L303.3,1807.9 L305.1,1807.8 L306.8,1807.7 L308.6,1807.7 L310.3,1807.6 L312.1,1807.5 L313.9,1807.5 L315.6,1807.4 L317.4,1807.3 L319.1,1807.2 L320.9,1807.1 L322.6,1807.1 L324.4,1807.0 L326.2,1806.9 L327.9,1806.8 L329.7,1806.7 L331.4,1806.6 L333.2,1806.5 L335.0,1806.4 L336.7,1806.3 L338.5,1806.2 L340.2,1806.1 L342.0,1806.0 L343.7,1805.9 L345.5,1805.8 L347.3,1805.7 L349.0,1805.6 L350.8,1805.4 L352.5,1805.3 L354.3,1805.2 L356.1,1805.1 L357.8,1805.0 L359.6,1804.9 L361.3,1804.7 L363.1,1804.6 L364.8,1804.5 L366.6,1804.3 L368.4,1804.2 L370.1,1804.1 L371.9,1803.9 L373.6,1803.8 L375.4,1803.7 L377.2,1803.5 L378.9,1803.4 L380.7,1803.2 L382.4,1803.1 L384.2,1802.9 L385.9,1802.8 L387.7,1802.6 L389.5,1802.4 L391.2,1802.3 L393.0,1802.1 L394.7,1802.0 L396.5,1801.8 L398.2,1801.6 L400.0,1801.4 L401.8,1801.3 L403.5,1801.1 L405.3,1800.9 L407.0,1800.7 L408.8,1800.5 L410.6,1800.3 L412.3,1800.1 L414.1,1800.0 L415.8,1799.8 L417.6,1799.6 L419.3,1799.3 L421.1,1799.1 L422.9,1798.9 L424.6,1798.7 L426.4,1798.5 L428.1,1798.3 L429.9,1798.1 L431.7,1797.8 L433.4,1797.6 L435.2,1797.4 L436.9,1797.1 L438.7,1796.9 L440.4,1796.7 L442.2,1796.4 L444.0,1796.2 L445.7,1795.9 L447.5,1795.7 L449.2,1795.4 L451.0,1795.2 L452.8,1794.9 L454.5,1794.6 L456.3,1794.4 L458.0,1794.1 L459.8,1793.8 L461.5,1793.5 L463.3,1793.3 L465.1,1793.0 L466.8,1792.7 L468.6,1792.4 L470.3,1792.1 L472.1,1791.8 L473.9,1791.5 L475.6,1791.2 L477.4,1790.9 L479.1,1790.6 L480.9,1790.3 L482.6,1790.0 L484.4,1789.7 L486.2,1789.4 L487.9,1789.1 L489.7,1788.8 L491.4,1788.5 L493.2,1788.2 L495.0,1787.8 L496.7,1787.5 L498.5,1787.2 L500.2,1786.9 L502.0,1786.6 L503.7,1786.3 L505.5,1785.9 L507.3,1785.6 L509.0,1785.3 L510.8,1785.0 L512.5,1784.7 L514.3,1784.3 L516.1,1784.0 L517.8,1783.7 L519.6,1783.4 L521.3,1783.0 L523.1,1782.7 L524.8,1782.4 L526.6,1782.1 L528.4,1781.8 L530.1,1781.4 L531.9,1781.1 L533.6,1780.8 L535.4,1780.5 L537.2,1780.2 L538.9,1779.8 L540.7,1779.5 L542.4,1779.2 L544.2,1778.9 L545.9,1778.6 L547.7,1778.3 L549.5,1778.0 L551.2,1777.7 L553.0,1777.3 L554.7,1777.0 L556.5,1776.7 L558.2,1776.4 L560.0,1776.1 L561.8,1775.7 L563.5,1775.4 L565.3,1775.1 L567.0,1774.7 L568.8,1774.4 L570.6,1774.0 L572.3,1773.7 L574.1,1773.3 L575.8,1772.9 L577.6,1772.6 L579.3,1772.2 L581.1,1771.8 L582.9,1771.4 L584.6,1771.0 L586.4,1770.6 L588.1,1770.1 L589.9,1769.7 L591.7,1769.3 L593.4,1768.8 L595.2,1768.4 L596.9,1767.9 L598.7,1767.4 L600.4,1767.0 L602.2,1766.5 L604.0,1766.0 L605.7,1765.5 L607.5,1765.0 L609.2,1764.5 L611.0,1764.0 L612.8,1763.5 L614.5,1763.0 L616.3,1762.5 L618.0,1761.9 L619.8,1761.4 L621.5,1760.9 L623.3,1760.4 L625.1,1759.9 L626.8,1759.3 L628.6,1758.8 L630.3,1758.3 L632.1,1757.8 L633.9,1757.2 L635.6,1756.7 L637.4,1756.2 L639.1,1755.6 L640.9,1755.1 L642.6,1754.5 L644.4,1754.0 L646.2,1753.4 L647.9,1752.8 L649.7,1752.2 L651.4,1751.6 L653.2,1751.0 L655.0,1750.4 L656.7,1749.8 L658.5,1749.1 L660.2,1748.4 L662.0,1747.8 L663.7,1747.1 L665.5,1746.4 L667.3,1745.7 L669.0,1745.0 L670.8,1744.3 L672.5,1743.6 L674.3,1742.9 L676.1,1742.2 L677.8,1741.5 L679.6,1740.8 L681.3,1740.1 L683.1,1739.4 L684.8,1738.8 L686.6,1738.1" fill="none" stroke="#2DB45C" stroke-width="5.8" stroke-dasharray="4.8 4.3"/>
<path d="M687.3,1196.7 L751.2,1187.8 L800.0,1179.6 L835.0,1168.6 L996.1,1118.9" fill="none" stroke="#2DB45C" stroke-width="5.8" stroke-dasharray="4.8 4.3"/>
<path d="M260.0,1594.7 L805.0,1594.7" fill="none" stroke="#000" stroke-width="2"/>
<path d="M248.9,1594.7 L275.7,1586.1 L269.5,1594.7 L275.7,1603.3Z" fill="#000"/>
<path d="M814.1,1594.7 L796.9,1586.5 L802.3,1594.7 L796.9,1602.9Z" fill="#000"/>
<path d="M850.0,1594.2 L980.0,1594.2" fill="none" stroke="#000" stroke-width="2"/>
<path d="M836.1,1594.2 L862.9,1585.6 L856.7,1594.2 L862.9,1602.8Z" fill="#000"/>
<path d="M994.8,1594.2 L968.0,1585.6 L974.2,1594.2 L968.0,1602.8Z" fill="#000"/>
<rect x="236.9" y="1805.8" width="263.1" height="6.0" fill="#3953A4"/>
<rect x="502.3" y="1778.5" width="23.9" height="5.8" fill="#3953A4"/>
<rect x="474.7" y="1786.2" width="50.3" height="6.3" fill="#3953A4"/>
<rect x="484.0" y="1784.0" width="32.8" height="20.5" fill="#3953A4"/>
<rect x="470.0" y="1804.2" width="55.0" height="5.8" fill="#3953A4"/>
<rect x="516.0" y="1783.6" width="74.0" height="6.0" fill="#3953A4"/>
<rect x="583.6" y="1762.0" width="41.0" height="5.9" fill="#3953A4"/>
<rect x="593.0" y="1767.0" width="22.2" height="22.5" fill="#3953A4"/>
<rect x="583.6" y="1789.0" width="41.0" height="5.8" fill="#3953A4"/>
<rect x="615.0" y="1761.4" width="45.0" height="6.0" fill="#3953A4"/>
<rect x="653.8" y="1741.0" width="32.8" height="5.8" fill="#3953A4"/>
<rect x="662.0" y="1746.0" width="11.7" height="20.0" fill="#3953A4"/>
<rect x="653.8" y="1765.6" width="29.3" height="6.5" fill="#3953A4"/>
<rect x="673.0" y="1739.0" width="35.0" height="5.8" fill="#3953A4"/>
<rect x="705.3" y="1711.5" width="22.5" height="6.1" fill="#3953A4"/>
<rect x="699.8" y="1717.6" width="19.8" height="5.5" fill="#3953A4"/>
<rect x="708.0" y="1717.0" width="11.6" height="27.3" fill="#3953A4"/>
<rect x="705.3" y="1737.4" width="22.5" height="5.5" fill="#3953A4"/>
<rect x="699.8" y="1742.9" width="23.2" height="6.8" fill="#3953A4"/>
<rect x="719.6" y="1715.6" width="20.4" height="6.1" fill="#3953A4"/>
<rect x="738.7" y="1693.7" width="19.9" height="6.3" fill="#3953A4"/>
<rect x="728.1" y="1695.8" width="21.9" height="6.1" fill="#3953A4"/>
<rect x="737.4" y="1700.0" width="10.2" height="22.4" fill="#3953A4"/>
<rect x="728.1" y="1721.7" width="28.1" height="5.9" fill="#3953A4"/>
<rect x="750.4" y="1671.9" width="33.4" height="7.5" fill="#3953A4"/>
<rect x="758.6" y="1679.0" width="10.9" height="18.5" fill="#3953A4"/>
<rect x="746.9" y="1697.1" width="31.2" height="7.5" fill="#3953A4"/>
<rect x="774.4" y="1643.0" width="5.9" height="51.0" fill="#3953A4"/>
<rect x="766.0" y="1693.4" width="23.0" height="6.5" fill="#3953A4"/>
<rect x="771.2" y="1637.6" width="22.9" height="5.6" fill="#3953A4"/>
<rect x="774.3" y="1592.0" width="11.4" height="45.6" fill="#3953A4"/>
<rect x="766.1" y="1589.8" width="22.7" height="5.8" fill="#3953A4"/>
<rect x="771.2" y="1586.3" width="28.5" height="5.9" fill="#3953A4"/>
<rect x="785.4" y="1564.0" width="5.6" height="26.0" fill="#3953A4"/>
<rect x="776.6" y="1561.3" width="23.1" height="5.5" fill="#3953A4"/>
<rect x="785.7" y="1624.9" width="19.2" height="5.8" fill="#3953A4"/>
<rect x="790.8" y="1316.0" width="5.8" height="312.0" fill="#3953A4"/>
<rect x="787.2" y="1284.9" width="22.8" height="5.9" fill="#3953A4"/>
<rect x="795.5" y="1290.0" width="5.9" height="21.0" fill="#3953A4"/>
<rect x="787.2" y="1310.7" width="22.8" height="5.6" fill="#3953A4"/>
<rect x="782.1" y="1314.3" width="22.8" height="6.5" fill="#3953A4"/>
<rect x="800.0" y="1313.0" width="56.0" height="5.7" fill="#3953A4"/>
<rect x="855.1" y="1284.9" width="22.6" height="5.9" fill="#3953A4"/>
<rect x="846.1" y="1292.2" width="26.9" height="5.6" fill="#3953A4"/>
<rect x="855.1" y="1290.0" width="13.8" height="27.0" fill="#3953A4"/>
<rect x="855.1" y="1311.0" width="22.6" height="5.8" fill="#3953A4"/>
<rect x="846.1" y="1318.0" width="26.9" height="5.6" fill="#3953A4"/>
<rect x="868.0" y="1289.8" width="54.0" height="5.8" fill="#3953A4"/>
<rect x="921.0" y="1262.2" width="23.4" height="5.8" fill="#3953A4"/>
<rect x="910.9" y="1268.0" width="33.1" height="7.8" fill="#3953A4"/>
<rect x="921.0" y="1268.0" width="14.1" height="27.3" fill="#3953A4"/>
<rect x="921.0" y="1288.2" width="22.7" height="6.3" fill="#3953A4"/>
<rect x="910.9" y="1295.3" width="29.6" height="6.2" fill="#3953A4"/>
<rect x="935.0" y="1268.0" width="72.7" height="5.7" fill="#3953A4"/>
<path d="M646.2,1170.9 L687.3,1196.6" fill="none" stroke="#000" stroke-width="3.6"/>
<circle cx="687.3" cy="1196.6" r="11.3" fill="#000"/>
<path d="M825.4,1594.2 L843.7,1686.8" fill="none" stroke="#000" stroke-width="3.6"/>
<circle cx="825.4" cy="1594.2" r="10.9" fill="#000"/>
<path d="M826.5,1592.5 L822.3,1603.5" fill="none" stroke="#231F20" stroke-width="6"/>
<rect x="260" y="1071" width="256.2" height="324.5" fill="#fff" stroke="#4D4D4F" stroke-width="2.2"/>
<path d="M269.0,1154.9 L319.2,1154.9" fill="none" stroke="#231F20" stroke-width="6.1" stroke-dasharray="15 7.9"/>
<path d="M271.9,1203.7 L323.4,1203.7" fill="none" stroke="#2DB45C" stroke-width="6" stroke-dasharray="4.8 4.3"/>
<path d="M271.9,1299.0h19.2M271.9,1328.3999999999999h19.2M281.5,1299.0V1328.3999999999999" stroke="#3953A4" stroke-width="3.6" fill="none"/>
<path d="M271.9,1346.8h19.2M271.9,1375.3999999999999h19.2M281.5,1346.8V1375.3999999999999" stroke="#ED1C24" stroke-width="3.6" fill="none"/>
<rect x="467.5" y="1131.3" width="32.1" height="2.2" fill="#231F20"/>
<rect x="479.4" y="1179.4" width="32.3" height="2.2" fill="#231F20"/>
<rect x="459.2" y="1289.4" width="32.5" height="2.2" fill="#231F20"/>
<rect x="471.3" y="1337.2" width="32.7" height="2.2" fill="#231F20"/>
<rect x="846.5" y="1895.5" width="45.0" height="2.8" fill="#231F20"/>
<g id="labels">
<text transform="translate(-1.77,100.30) scale(0.6765,1)" font-family="Liberation Sans, sans-serif" font-size="85" fill="#000" stroke="#000" stroke-width="1.8" stroke-linejoin="round">(</text><text transform="translate(23.92,103.00) scale(0.7870,1)" font-family="Liberation Sans, sans-serif" font-size="83" fill="#000" stroke="#000" stroke-width="1.2" stroke-linejoin="round">a</text><text transform="translate(71.93,100.30) scale(0.7059,1)" font-family="Liberation Sans, sans-serif" font-size="85" fill="#000" stroke="#000" stroke-width="1.8" stroke-linejoin="round">)</text>
<text transform="translate(159.60,933.49) rotate(-90) scale(0.9532,1)" font-family="Liberation Sans, sans-serif" font-size="70" fill="#231F20" stroke="#231F20" stroke-width="1.1" stroke-linejoin="round">Beam</text>
<text transform="translate(159.60,737.97) rotate(-90) scale(0.9666,1)" font-family="Liberation Sans, sans-serif" font-size="70" fill="#231F20" stroke="#231F20" stroke-width="1.1" stroke-linejoin="round">Displace</text><text transform="translate(159.60,476.34) rotate(-90) scale(1.0206,1)" font-family="Liberation Sans, sans-serif" font-size="70" fill="#231F20" stroke="#231F20" stroke-width="1.1" stroke-linejoin="round">ment,</text>
<text transform="translate(159.60,299.02) rotate(-90) scale(0.9817,1)" font-family="Liberation Serif, serif" font-size="77" fill="#231F20" font-style="italic" stroke="#231F20" stroke-width="0.3" stroke-linejoin="round">w</text><text transform="translate(159.60,249.43) rotate(-90) scale(1.1139,1)" font-family="Liberation Serif, serif" font-size="77" fill="#231F20" stroke="#231F20" stroke-width="0.2" stroke-linejoin="round">(</text><text transform="translate(159.60,223.45) rotate(-90) scale(1.0028,1)" font-family="Liberation Serif, serif" font-size="77" fill="#231F20" font-style="italic" stroke="#231F20" stroke-width="0.3" stroke-linejoin="round">x</text><text transform="translate(159.60,188.63) rotate(-90) scale(1.0693,1)" font-family="Liberation Serif, serif" font-size="77" fill="#231F20" stroke="#231F20" stroke-width="0.2" stroke-linejoin="round">)</text>
<text transform="translate(158.40,142.74) rotate(-90) scale(1.1237,1)" font-family="Liberation Sans, sans-serif" font-size="68" fill="#231F20" stroke="#231F20" stroke-width="0.5" stroke-linejoin="round">[µm]</text>
<text transform="translate(175.53,83.40) scale(1.0048,1)" font-family="Liberation Sans, sans-serif" font-size="62.4" fill="#4D4D4F" stroke="#4D4D4F" stroke-width="0.5" stroke-linejoin="round">10</text>
<text transform="translate(194.64,239.80) scale(1.0407,1)" font-family="Liberation Sans, sans-serif" font-size="62.4" fill="#4D4D4F" stroke="#4D4D4F" stroke-width="0.5" stroke-linejoin="round">8</text>
<text transform="translate(195.11,396.20) scale(1.0508,1)" font-family="Liberation Sans, sans-serif" font-size="62.4" fill="#4D4D4F" stroke="#4D4D4F" stroke-width="0.5" stroke-linejoin="round">6</text>
<text transform="translate(195.64,552.40) scale(1.0123,1)" font-family="Liberation Sans, sans-serif" font-size="62.4" fill="#4D4D4F" stroke="#4D4D4F" stroke-width="0.5" stroke-linejoin="round">4</text>
<text transform="translate(196.91,708.60) scale(0.9424,1)" font-family="Liberation Sans, sans-serif" font-size="62.4" fill="#4D4D4F" stroke="#4D4D4F" stroke-width="0.5" stroke-linejoin="round">2</text>
<text transform="translate(196.27,865.60) scale(0.9902,1)" font-family="Liberation Sans, sans-serif" font-size="62.4" fill="#4D4D4F" stroke="#4D4D4F" stroke-width="0.5" stroke-linejoin="round">0</text>
<text transform="translate(231.27,908.80) scale(0.9902,1)" font-family="Liberation Sans, sans-serif" font-size="62.4" fill="#4D4D4F" stroke="#4D4D4F" stroke-width="0.5" stroke-linejoin="round">0</text>
<text transform="translate(365.68,908.80) scale(0.9830,1)" font-family="Liberation Sans, sans-serif" font-size="62.4" fill="#4D4D4F" stroke="#4D4D4F" stroke-width="0.5" stroke-linejoin="round">0.2</text>
<text transform="translate(515.08,908.80) scale(0.9820,1)" font-family="Liberation Sans, sans-serif" font-size="62.4" fill="#4D4D4F" stroke="#4D4D4F" stroke-width="0.5" stroke-linejoin="round">0.4</text>
<text transform="translate(666.27,908.80) scale(0.9879,1)" font-family="Liberation Sans, sans-serif" font-size="62.4" fill="#4D4D4F" stroke="#4D4D4F" stroke-width="0.5" stroke-linejoin="round">0.6</text>
<text transform="translate(814.28,908.80) scale(0.9818,1)" font-family="Liberation Sans, sans-serif" font-size="62.4" fill="#4D4D4F" stroke="#4D4D4F" stroke-width="0.5" stroke-linejoin="round">0.8</text>
<text transform="translate(979.85,908.80) scale(0.8945,1)" font-family="Liberation Sans, sans-serif" font-size="62.4" fill="#4D4D4F" stroke="#4D4D4F" stroke-width="0.5" stroke-linejoin="round">1</text>
<text transform="translate(595.63,973.50) scale(1.2157,1)" font-family="Liberation Serif, serif" font-size="77" fill="#231F20" font-style="italic">X</text>
<text transform="translate(394.98,143.80) scale(0.9863,1) skewX(-12)" font-family="Liberation Serif, serif" font-size="54.6" fill="#231F20" font-style="italic" stroke="#231F20" stroke-width="0.5" stroke-linejoin="round">V</text>
<text transform="translate(448.94,143.80) scale(0.9506,1)" font-family="Liberation Sans, sans-serif" font-size="60" fill="#231F20" stroke="#231F20" stroke-width="0.4" stroke-linejoin="round">= 6.7 V</text>
<text transform="translate(394.98,202.60) scale(0.9863,1) skewX(-12)" font-family="Liberation Serif, serif" font-size="54.6" fill="#231F20" font-style="italic" stroke="#231F20" stroke-width="0.5" stroke-linejoin="round">V</text>
<text transform="translate(448.94,202.80) scale(0.9506,1)" font-family="Liberation Sans, sans-serif" font-size="60" fill="#231F20" stroke="#231F20" stroke-width="0.4" stroke-linejoin="round">= 9.8 V</text>
<text transform="translate(401.17,257.40) scale(0.9795,1)" font-family="Liberation Serif, serif" font-size="55" fill="#231F20" font-style="italic" stroke="#231F20" stroke-width="0.5" stroke-linejoin="round">s</text><text transform="translate(423.92,257.40) scale(0.9034,1)" font-family="Liberation Serif, serif" font-size="57" fill="#231F20" stroke="#231F20" stroke-width="0.5" stroke-linejoin="round">(</text><text transform="translate(442.84,257.40) scale(1.0706,1)" font-family="Liberation Serif, serif" font-size="55" fill="#231F20" font-style="italic" stroke="#231F20" stroke-width="0.5" stroke-linejoin="round">x</text><text transform="translate(469.85,257.40) scale(0.9448,1)" font-family="Liberation Serif, serif" font-size="57" fill="#231F20" stroke="#231F20" stroke-width="0.5" stroke-linejoin="round">)</text>
<text transform="translate(829.62,278.90) scale(1.0216,1)" font-family="Liberation Sans, sans-serif" font-size="54.5" fill="#000" stroke="#000" stroke-width="0.9" stroke-linejoin="round">Zipped</text>
<text transform="translate(763.84,693.60) scale(1.0317,1)" font-family="Liberation Sans, sans-serif" font-size="54.5" fill="#000" stroke="#000" stroke-width="0.9" stroke-linejoin="round">Unzipped</text>
<text transform="translate(-0.62,1046.60) scale(0.6387,1)" font-family="Liberation Sans, sans-serif" font-size="85" fill="#000" stroke="#000" stroke-width="1.8" stroke-linejoin="round">(</text><text transform="translate(24.25,1049.30) scale(0.9439,1)" font-family="Liberation Sans, sans-serif" font-size="84" fill="#000" stroke="#000" stroke-width="1.2" stroke-linejoin="round">b</text><text transform="translate(74.73,1046.60) scale(0.7143,1)" font-family="Liberation Sans, sans-serif" font-size="85" fill="#000" stroke="#000" stroke-width="1.8" stroke-linejoin="round">)</text>
<text transform="translate(151.50,1900.04) rotate(-90) scale(0.9934,1)" font-family="Liberation Sans, sans-serif" font-size="70" fill="#231F20" stroke="#231F20" stroke-width="1.1" stroke-linejoin="round">Tip</text>
<text transform="translate(151.50,1786.14) rotate(-90) scale(0.9608,1)" font-family="Liberation Sans, sans-serif" font-size="70" fill="#231F20" stroke="#231F20" stroke-width="1.1" stroke-linejoin="round">Displace</text><text transform="translate(151.50,1525.23) rotate(-90) scale(1.0394,1)" font-family="Liberation Sans, sans-serif" font-size="70" fill="#231F20" stroke="#231F20" stroke-width="1.1" stroke-linejoin="round">ment,</text>
<text transform="translate(151.50,1338.94) rotate(-90) scale(1.0487,1)" font-family="Liberation Serif, serif" font-size="77" fill="#231F20" font-style="italic" stroke="#231F20" stroke-width="0.3" stroke-linejoin="round">w</text><text transform="translate(151.50,1286.13) rotate(-90) scale(0.9406,1)" font-family="Liberation Serif, serif" font-size="77" fill="#231F20" stroke="#231F20" stroke-width="0.2" stroke-linejoin="round">(</text><text transform="translate(151.50,1261.91) rotate(-90) scale(1.0372,1)" font-family="Liberation Serif, serif" font-size="77" fill="#231F20" font-style="italic" stroke="#231F20" stroke-width="0.3" stroke-linejoin="round">L</text><text transform="translate(151.50,1217.99) rotate(-90) scale(0.9406,1)" font-family="Liberation Serif, serif" font-size="77" fill="#231F20" stroke="#231F20" stroke-width="0.2" stroke-linejoin="round">)</text>
<text transform="translate(150.30,1173.75) rotate(-90) scale(1.1044,1)" font-family="Liberation Sans, sans-serif" font-size="68" fill="#231F20" stroke="#231F20" stroke-width="0.5" stroke-linejoin="round">[µm]</text>
<text transform="translate(171.91,1078.40) scale(1.0080,1)" font-family="Liberation Sans, sans-serif" font-size="62.4" fill="#4D4D4F" stroke="#4D4D4F" stroke-width="0.5" stroke-linejoin="round">10</text>
<text transform="translate(203.46,1239.00) scale(1.0339,1)" font-family="Liberation Sans, sans-serif" font-size="62.4" fill="#4D4D4F" stroke="#4D4D4F" stroke-width="0.5" stroke-linejoin="round">8</text>
<text transform="translate(203.20,1391.00) scale(1.0169,1)" font-family="Liberation Sans, sans-serif" font-size="62.4" fill="#4D4D4F" stroke="#4D4D4F" stroke-width="0.5" stroke-linejoin="round">6</text>
<text transform="translate(202.95,1530.40) scale(1.0000,1)" font-family="Liberation Sans, sans-serif" font-size="62.4" fill="#4D4D4F" stroke="#4D4D4F" stroke-width="0.5" stroke-linejoin="round">4</text>
<text transform="translate(206.83,1688.40) scale(0.9356,1)" font-family="Liberation Sans, sans-serif" font-size="62.4" fill="#4D4D4F" stroke="#4D4D4F" stroke-width="0.5" stroke-linejoin="round">2</text>
<text transform="translate(206.83,1825.50) scale(1.0131,1)" font-family="Liberation Sans, sans-serif" font-size="62.4" fill="#4D4D4F" stroke="#4D4D4F" stroke-width="0.5" stroke-linejoin="round">0</text>
<text transform="translate(232.66,1865.20) scale(0.9967,1)" font-family="Liberation Sans, sans-serif" font-size="62.4" fill="#4D4D4F" stroke="#4D4D4F" stroke-width="0.5" stroke-linejoin="round">0</text>
<text transform="translate(377.20,1865.20) scale(0.9458,1)" font-family="Liberation Sans, sans-serif" font-size="62.4" fill="#4D4D4F" stroke="#4D4D4F" stroke-width="0.5" stroke-linejoin="round">2</text>
<text transform="translate(520.74,1865.20) scale(1.0092,1)" font-family="Liberation Sans, sans-serif" font-size="62.4" fill="#4D4D4F" stroke="#4D4D4F" stroke-width="0.5" stroke-linejoin="round">4</text>
<text transform="translate(676.44,1865.20) scale(1.0407,1)" font-family="Liberation Sans, sans-serif" font-size="62.4" fill="#4D4D4F" stroke="#4D4D4F" stroke-width="0.5" stroke-linejoin="round">6</text>
<text transform="translate(829.14,1865.20) scale(1.0407,1)" font-family="Liberation Sans, sans-serif" font-size="62.4" fill="#4D4D4F" stroke="#4D4D4F" stroke-width="0.5" stroke-linejoin="round">8</text>
<text transform="translate(956.21,1865.20) scale(1.0080,1)" font-family="Liberation Sans, sans-serif" font-size="62.4" fill="#4D4D4F" stroke="#4D4D4F" stroke-width="0.5" stroke-linejoin="round">10</text>
<text transform="translate(225.54,1952.40) scale(1.0169,1)" font-family="Liberation Sans, sans-serif" font-size="70" fill="#231F20" stroke="#231F20" stroke-width="1.1" stroke-linejoin="round">Voltage</text>
<text transform="translate(481.44,1952.40) scale(1.0441,1)" font-family="Liberation Sans, sans-serif" font-size="70" fill="#231F20" stroke="#231F20" stroke-width="1.1" stroke-linejoin="round">amplitude,</text>
<text transform="translate(828.81,1952.60) scale(1.0323,1) skewX(-12)" font-family="Liberation Serif, serif" font-size="71.2" fill="#231F20" font-style="italic" stroke="#231F20" stroke-width="0.5" stroke-linejoin="round">V</text>
<text transform="translate(902.66,1952.40) scale(0.9754,1)" font-family="Liberation Sans, sans-serif" font-size="70" fill="#231F20" stroke="#231F20" stroke-width="1.1" stroke-linejoin="round">[V]</text>
<text transform="translate(319.16,1118.70) scale(1.0816,1)" font-family="Liberation Sans, sans-serif" font-size="45.5" fill="#231F20" font-weight="bold">Model</text>
<text transform="translate(334.32,1170.10) scale(0.9929,1)" font-family="Liberation Sans, sans-serif" font-size="42.5" fill="#231F20" stroke="#231F20" stroke-width="0.8" stroke-linejoin="round">Rising</text>
<text transform="translate(458.30,1170.00) scale(1.0169,1) skewX(-12)" font-family="Liberation Serif, serif" font-size="45.7" fill="#231F20" font-style="italic" stroke="#231F20" stroke-width="0.5" stroke-linejoin="round">V</text>
<text transform="translate(334.22,1217.90) scale(1.0301,1)" font-family="Liberation Sans, sans-serif" font-size="42.5" fill="#231F20" stroke="#231F20" stroke-width="0.8" stroke-linejoin="round">Falling</text>
<text transform="translate(470.47,1217.80) scale(1.0203,1) skewX(-12)" font-family="Liberation Serif, serif" font-size="45.7" fill="#231F20" font-style="italic" stroke="#231F20" stroke-width="0.5" stroke-linejoin="round">V</text>
<text transform="translate(261.99,1272.70) scale(1.0020,1)" font-family="Liberation Sans, sans-serif" font-size="45.5" fill="#231F20" font-weight="bold">Experiment</text>
<text transform="translate(326.12,1327.90) scale(0.9929,1)" font-family="Liberation Sans, sans-serif" font-size="42.5" fill="#231F20" stroke="#231F20" stroke-width="0.8" stroke-linejoin="round">Rising</text>
<text transform="translate(450.72,1327.80) scale(1.0373,1) skewX(-12)" font-family="Liberation Serif, serif" font-size="45.7" fill="#231F20" font-style="italic" stroke="#231F20" stroke-width="0.5" stroke-linejoin="round">V</text>
<text transform="translate(326.01,1375.20) scale(1.0351,1)" font-family="Liberation Sans, sans-serif" font-size="42.5" fill="#231F20" stroke="#231F20" stroke-width="0.8" stroke-linejoin="round">Falling</text>
<text transform="translate(462.63,1375.10) scale(1.0475,1) skewX(-12)" font-family="Liberation Serif, serif" font-size="45.7" fill="#231F20" font-style="italic" stroke="#231F20" stroke-width="0.5" stroke-linejoin="round">V</text>
<text transform="translate(577.30,1101.30) scale(1.0618,1)" font-family="Liberation Sans, sans-serif" font-size="47" fill="#000" stroke="#000" stroke-width="0.8" stroke-linejoin="round">static</text>
<text transform="translate(557.26,1166.00) scale(1.0160,1)" font-family="Liberation Sans, sans-serif" font-size="47" fill="#000" stroke="#000" stroke-width="0.8" stroke-linejoin="round">release</text>
<text transform="translate(604.08,1260.40) scale(1.0092,1)" font-family="Liberation Sans, sans-serif" font-size="35" fill="#231F20" font-weight="bold">model</text>
<text transform="translate(576.38,1305.60) scale(0.9106,1)" font-family="Liberation Sans, sans-serif" font-size="35" fill="#231F20" font-weight="bold">hysteresis</text>
<text transform="translate(565.34,1503.50) scale(0.9573,1)" font-family="Liberation Sans, sans-serif" font-size="35" fill="#92278F" font-weight="bold">experiment</text>
<text transform="translate(577.68,1549.80) scale(0.9124,1)" font-family="Liberation Sans, sans-serif" font-size="35" fill="#92278F" font-weight="bold">hysteresis</text>
<text transform="translate(328.33,1644.90) scale(1.0477,1)" font-family="Liberation Sans, sans-serif" font-size="47" fill="#000" stroke="#000" stroke-width="0.8" stroke-linejoin="round">Unzipped</text>
<text transform="translate(843.08,1645.00) scale(1.0270,1)" font-family="Liberation Sans, sans-serif" font-size="47" fill="#000" stroke="#000" stroke-width="0.8" stroke-linejoin="round">Zipped</text>
<text transform="translate(799.61,1721.00) scale(1.0571,1)" font-family="Liberation Sans, sans-serif" font-size="47" fill="#000" stroke="#000" stroke-width="0.8" stroke-linejoin="round">static</text>
<text transform="translate(788.84,1785.30) scale(1.1010,1)" font-family="Liberation Sans, sans-serif" font-size="47" fill="#000" stroke="#000" stroke-width="0.8" stroke-linejoin="round">pull-in</text>
</g>
</svg></body></html>
